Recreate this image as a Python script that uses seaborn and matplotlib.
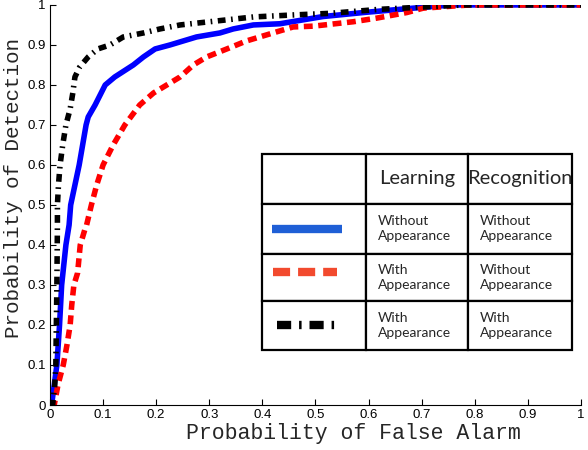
import numpy as np
import pandas as pd
import matplotlib
matplotlib.use("Agg")
import matplotlib.pyplot as plt
from matplotlib.patches import Rectangle
import seaborn as sns

# ROC curves
blue_fpr = [0.0, 0.003, 0.013, 0.018, 0.022, 0.030, 0.036, 0.039, 0.055, 0.068, 0.072, 0.085,
            0.104, 0.122, 0.157, 0.176, 0.198, 0.226, 0.276, 0.32, 0.345, 0.383, 0.433, 0.514,
            0.59, 0.684, 0.72, 0.76, 1.0]
blue_tpr = [0.0, 0.0, 0.1, 0.2, 0.3, 0.4, 0.45, 0.5, 0.6, 0.7, 0.72, 0.75,
            0.8, 0.82, 0.85, 0.87, 0.89, 0.9, 0.92, 0.93, 0.94, 0.95, 0.953, 0.971,
            0.981, 0.992, 0.996, 1.0, 1.0]

red_fpr = [0.0, 0.008, 0.015, 0.025, 0.032, 0.038, 0.041, 0.045, 0.052, 0.057, 0.066, 0.069,
           0.078, 0.088, 0.10, 0.119, 0.141, 0.169, 0.195, 0.22, 0.245, 0.27, 0.295, 0.333,
           0.37, 0.42, 0.458, 0.496, 0.571, 0.615, 0.672, 0.703, 0.747, 0.79, 1.0]
red_tpr = [0.0, 0.0, 0.05, 0.1, 0.15, 0.2, 0.25, 0.3, 0.33, 0.4, 0.44, 0.45,
           0.5, 0.55, 0.6, 0.65, 0.7, 0.75, 0.78, 0.8, 0.82, 0.85, 0.87, 0.89,
           0.91, 0.93, 0.945, 0.947, 0.958, 0.967, 0.981, 0.992, 0.996, 1.0, 1.0]

black_fpr = [0.0, 0.005, 0.009, 0.011, 0.013, 0.014, 0.014, 0.016, 0.019, 0.024, 0.030, 0.038,
             0.043, 0.047, 0.056, 0.072, 0.090, 0.113, 0.138, 0.176, 0.207, 0.245, 0.314,
             0.383, 0.458, 0.527, 0.62, 0.72, 0.78, 1.0]
black_tpr = [0.0, 0.0, 0.05, 0.1, 0.3, 0.45, 0.5, 0.55, 0.6, 0.65, 0.7, 0.74,
             0.78, 0.82, 0.845, 0.87, 0.89, 0.9, 0.92, 0.93, 0.94, 0.95, 0.96,
             0.97, 0.975, 0.979, 0.989, 0.996, 1.0, 1.0]

ticks = [0, 0.1, 0.2, 0.3, 0.4, 0.5, 0.6, 0.7, 0.8, 0.9, 1]
tick_labels = ["0", "0.1", "0.2", "0.3", "0.4", "0.5", "0.6", "0.7", "0.8", "0.9", "1"]

header = ["", "Learning", "Recognition"]
rows = [["Without\nAppearance", "Without\nAppearance"],
        ["With\nAppearance", "Without\nAppearance"],
        ["With\nAppearance", "With\nAppearance"]]

sns.set_style("ticks")
plt.rcParams["font.family"] = ["Liberation Sans", "DejaVu Sans"]

fig = plt.figure(figsize=(5.88, 4.5), dpi=100)
ax = fig.add_axes([0.085, 0.1, 0.903, 0.889])

sns.lineplot(x=blue_fpr, y=blue_tpr, sort=False, estimator=None, color="#0000ff",
             linewidth=4, ax=ax)
sns.lineplot(x=red_fpr, y=red_tpr, sort=False, estimator=None, color="#ff0000",
             linewidth=4, ax=ax)
ax.lines[-1].set_dashes((1.6, 1.0))
sns.lineplot(x=black_fpr, y=black_tpr, sort=False, estimator=None, color="black",
             linewidth=4, ax=ax)
ax.lines[-1].set_dashes((1.4, 1.0, 0.3, 1.0))

ax.set_xlim(0, 1)
ax.set_ylim(0, 1)
ax.set_xticks(ticks)
ax.set_xticklabels(tick_labels)
ax.set_yticks(ticks)
ax.set_yticklabels(tick_labels)
ax.tick_params(direction="in", length=4, labelsize=9.5, colors="black", pad=3)
sns.despine(ax=ax)
for s in ["left", "bottom"]:
    ax.spines[s].set_color("black")
    ax.spines[s].set_linewidth(0.8)

ax.set_xlabel("Probability of False Alarm", family="Liberation Mono", fontsize=15.5)
ax.set_ylabel("Probability of Detection", family="Liberation Mono", fontsize=15)
ax.xaxis.set_label_coords(0.572, -0.044)
ax.yaxis.set_label_coords(-0.051, 0.5425)

# table-style legend
col_x = [0.399, 0.595, 0.787, 0.983]
row_y = [0.6275, 0.5025, 0.3775, 0.26, 0.1375]
for r in range(4):
    for c in range(3):
        ax.add_patch(Rectangle((col_x[c], row_y[r + 1]), col_x[c + 1] - col_x[c],
                               row_y[r] - row_y[r + 1], transform=ax.transAxes,
                               fill=True, facecolor="white", edgecolor="black",
                               linewidth=1.6, zorder=5))
for c in (1, 2):
    ax.text((col_x[c] + col_x[c + 1]) / 2, (row_y[0] + row_y[1]) / 2, header[c],
            transform=ax.transAxes, ha="center", va="center", fontsize=14.5,
            family="Lato", zorder=6)
for r, row in enumerate(rows):
    for c, txt in enumerate(row):
        ax.text(col_x[c + 1] + 0.022, (row_y[r + 1] + row_y[r + 2]) / 2, txt,
                transform=ax.transAxes, ha="left", va="center", fontsize=10,
                family="Lato", linespacing=1.3, zorder=6)

samples = [("#1f5fd6", None, 0.418, 0.550, 0.0),
           ("#f24a2e", (2.05, 0.96), 0.420, 0.541, 0.0125),
           ("black", (1.7, 0.95, 0.3, 0.95), 0.427, 0.539, 0.0)]
for r, (col, dsh, x0, x1, dy) in enumerate(samples):
    yy = (row_y[r + 1] + row_y[r + 2]) / 2 + dy
    ln, = ax.plot([x0, x1], [yy, yy], transform=ax.transAxes, color=col,
                  linewidth=6, zorder=6, solid_capstyle="butt")
    if dsh:
        ln.set_dashes(dsh)
        ln.set_dash_capstyle("butt")

fig.savefig("out.png", dpi=100)
